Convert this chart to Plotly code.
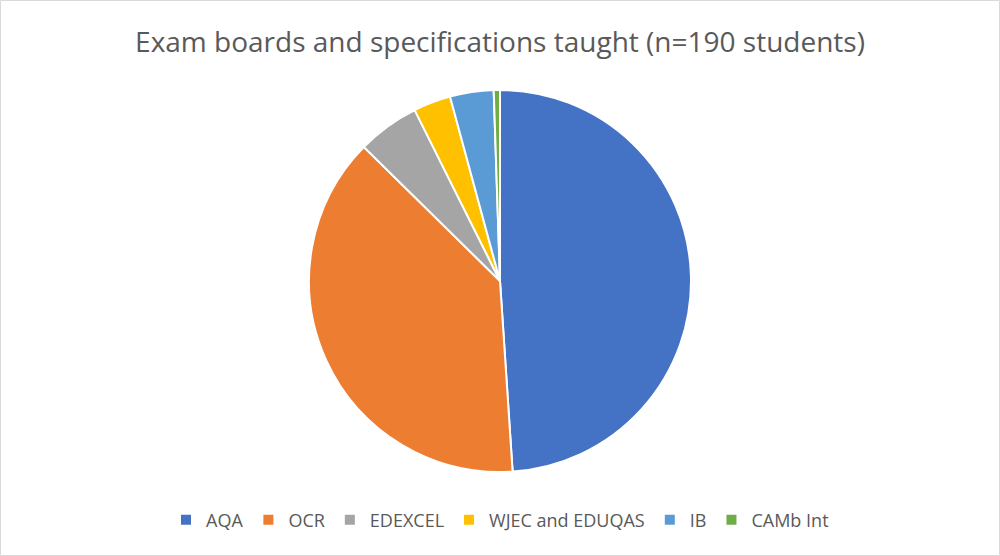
import plotly.graph_objects as go

labels = ["AQA", "OCR", "EDEXCEL", "WJEC and EDUQAS", "IB", "CAMb Int"]
students = [93, 73, 10, 6, 7, 1]
colors = ["#4472C4", "#ED7D31", "#A5A5A5", "#FFC000", "#5B9BD5", "#70AD47"]

W, H = 1000, 556
mt, mb = 90, 84
ph = H - mt - mb

fig = go.Figure(go.Pie(
    labels=labels, values=students, sort=False, direction="clockwise", rotation=0,
    marker=dict(colors=colors, line=dict(color="white", width=2)),
    textinfo="none", hoverinfo="label+value+percent",
))

fig.update_layout(
    width=W, height=H,
    margin=dict(l=0, r=0, t=mt, b=mb),
    paper_bgcolor="white", plot_bgcolor="white",
    font=dict(family="Open Sans, Lato, sans-serif", color="#595959"),
    title=dict(text="Exam boards and specifications taught (n=190 students)",
               x=0.5, xanchor="center", y=1 - 42 / H, yanchor="middle", yref="container",
               font=dict(size=28, color="#595959")),
    legend=dict(orientation="h", x=0.5, xanchor="center", y=-48 / ph, yanchor="middle",
                font=dict(size=18, color="#595959"), traceorder="normal"),
    shapes=[dict(type="rect", xref="paper", yref="paper",
                 x0=0.0005, x1=0.9995, y0=-mb / ph + 0.5 / ph, y1=1 + mt / ph - 0.5 / ph,
                 line=dict(color="#D9D9D9", width=1), fillcolor="rgba(0,0,0,0)", layer="below")],
)

fig.write_html("out.html")
